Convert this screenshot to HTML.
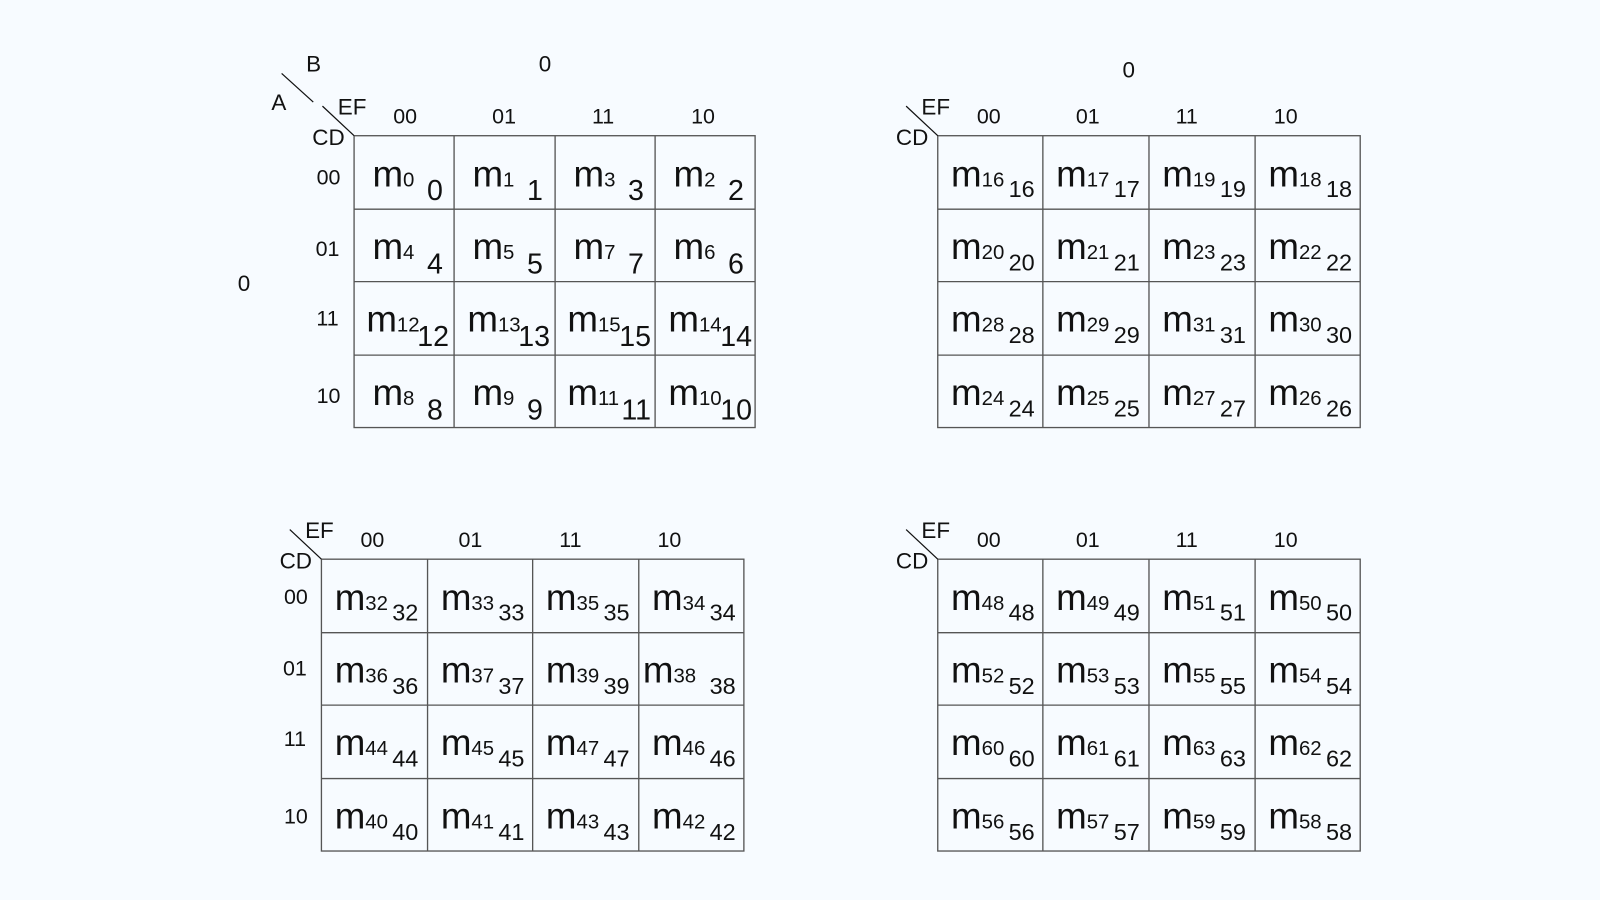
<!DOCTYPE html>
<html><head><meta charset="utf-8"><style>
html,body{margin:0;padding:0;background:#f7fbff;}
svg{display:block;}
text{font-family:"Liberation Sans",sans-serif;fill:#111;}
.m{font-size:36px;}
.s{font-size:20px;}
.i1{font-size:28px;text-anchor:end;}
.i{font-size:23px;text-anchor:end;}
.h{font-size:21px;text-anchor:middle;}
.l{font-size:22px;}
</style></head><body>
<svg width="1600" height="900" viewBox="0 0 1568 882" xmlns="http://www.w3.org/2000/svg">
<g stroke="#555" stroke-width="1.3" fill="none">
<rect x="347" y="133" width="393" height="286"/>
<line x1="445" y1="133" x2="445" y2="419"/><line x1="544" y1="133" x2="544" y2="419"/><line x1="642" y1="133" x2="642" y2="419"/>
<line x1="347" y1="205" x2="740" y2="205"/><line x1="347" y1="276" x2="740" y2="276"/><line x1="347" y1="348" x2="740" y2="348"/>
<rect x="919" y="133" width="414" height="286"/>
<line x1="1022" y1="133" x2="1022" y2="419"/><line x1="1126" y1="133" x2="1126" y2="419"/><line x1="1230" y1="133" x2="1230" y2="419"/>
<line x1="919" y1="205" x2="1333" y2="205"/><line x1="919" y1="276" x2="1333" y2="276"/><line x1="919" y1="348" x2="1333" y2="348"/>
<rect x="315" y="548" width="414" height="286"/>
<line x1="419" y1="548" x2="419" y2="834"/><line x1="522" y1="548" x2="522" y2="834"/><line x1="626" y1="548" x2="626" y2="834"/>
<line x1="315" y1="620" x2="729" y2="620"/><line x1="315" y1="691" x2="729" y2="691"/><line x1="315" y1="763" x2="729" y2="763"/>
<rect x="919" y="548" width="414" height="286"/>
<line x1="1022" y1="548" x2="1022" y2="834"/><line x1="1126" y1="548" x2="1126" y2="834"/><line x1="1230" y1="548" x2="1230" y2="834"/>
<line x1="919" y1="620" x2="1333" y2="620"/><line x1="919" y1="691" x2="1333" y2="691"/><line x1="919" y1="763" x2="1333" y2="763"/>
</g>
<g stroke="#111" stroke-width="1.2">
<line x1="276" y1="72" x2="307" y2="100"/><line x1="316" y1="104" x2="347" y2="133"/>
<line x1="888" y1="104" x2="919" y2="133"/>
<line x1="284" y1="519" x2="315" y2="548"/>
<line x1="888" y1="519" x2="919" y2="548"/>
</g>
<text class="l" x="300" y="70">B</text><text class="l" x="266" y="108">A</text>
<text class="l" x="528" y="70">0</text><text class="l" x="1100" y="76">0</text><text class="l" x="233" y="285">0</text>
<text class="l" x="331" y="112">EF</text><text class="l" x="306" y="142">CD</text>
<text class="l" x="903" y="112">EF</text><text class="l" x="878" y="142">CD</text>
<text class="l" x="299" y="527">EF</text><text class="l" x="274" y="557">CD</text>
<text class="l" x="903" y="527">EF</text><text class="l" x="878" y="557">CD</text>
<text class="h" x="397" y="121">00</text><text class="h" x="494" y="121">01</text><text class="h" x="591" y="121">11</text><text class="h" x="689" y="121">10</text>
<text class="h" x="969" y="121">00</text><text class="h" x="1066" y="121">01</text><text class="h" x="1163" y="121">11</text><text class="h" x="1260" y="121">10</text>
<text class="h" x="365" y="536">00</text><text class="h" x="461" y="536">01</text><text class="h" x="559" y="536">11</text><text class="h" x="656" y="536">10</text>
<text class="h" x="969" y="536">00</text><text class="h" x="1066" y="536">01</text><text class="h" x="1163" y="536">11</text><text class="h" x="1260" y="536">10</text>
<text class="h" x="322" y="181">00</text><text class="h" x="321" y="251">01</text><text class="h" x="321" y="319">11</text><text class="h" x="322" y="395">10</text>
<text class="h" x="290" y="592">00</text><text class="h" x="289" y="662">01</text><text class="h" x="289" y="731">11</text><text class="h" x="290" y="807">10</text>

<!-- top-left -->
<text class="m" x="365" y="183">m<tspan class="s">0</tspan></text><text class="i1" x="434" y="196">0</text>
<text class="m" x="463" y="183">m<tspan class="s">1</tspan></text><text class="i1" x="532" y="196">1</text>
<text class="m" x="562" y="183">m<tspan class="s">3</tspan></text><text class="i1" x="631" y="196">3</text>
<text class="m" x="660" y="183">m<tspan class="s">2</tspan></text><text class="i1" x="729" y="196">2</text>
<text class="m" x="365" y="254">m<tspan class="s">4</tspan></text><text class="i1" x="434" y="268">4</text>
<text class="m" x="463" y="254">m<tspan class="s">5</tspan></text><text class="i1" x="532" y="268">5</text>
<text class="m" x="562" y="254">m<tspan class="s">7</tspan></text><text class="i1" x="631" y="268">7</text>
<text class="m" x="660" y="254">m<tspan class="s">6</tspan></text><text class="i1" x="729" y="268">6</text>
<text class="m" x="359" y="325">m<tspan class="s">12</tspan></text><text class="i1" x="440" y="339">12</text>
<text class="m" x="458" y="325">m<tspan class="s">13</tspan></text><text class="i1" x="539" y="339">13</text>
<text class="m" x="556" y="325">m<tspan class="s">15</tspan></text><text class="i1" x="638" y="339">15</text>
<text class="m" x="655" y="325">m<tspan class="s">14</tspan></text><text class="i1" x="737" y="339">14</text>
<text class="m" x="365" y="397">m<tspan class="s">8</tspan></text><text class="i1" x="434" y="411">8</text>
<text class="m" x="463" y="397">m<tspan class="s">9</tspan></text><text class="i1" x="532" y="411">9</text>
<text class="m" x="556" y="397">m<tspan class="s">11</tspan></text><text class="i1" x="638" y="411">11</text>
<text class="m" x="655" y="397">m<tspan class="s">10</tspan></text><text class="i1" x="737" y="411">10</text>

<!-- top-right -->
<text class="m" x="932" y="183">m<tspan class="s">16</tspan></text><text class="i" x="1014" y="193">16</text>
<text class="m" x="1035" y="183">m<tspan class="s">17</tspan></text><text class="i" x="1117" y="193">17</text>
<text class="m" x="1139" y="183">m<tspan class="s">19</tspan></text><text class="i" x="1221" y="193">19</text>
<text class="m" x="1243" y="183">m<tspan class="s">18</tspan></text><text class="i" x="1325" y="193">18</text>
<text class="m" x="932" y="254">m<tspan class="s">20</tspan></text><text class="i" x="1014" y="265">20</text>
<text class="m" x="1035" y="254">m<tspan class="s">21</tspan></text><text class="i" x="1117" y="265">21</text>
<text class="m" x="1139" y="254">m<tspan class="s">23</tspan></text><text class="i" x="1221" y="265">23</text>
<text class="m" x="1243" y="254">m<tspan class="s">22</tspan></text><text class="i" x="1325" y="265">22</text>
<text class="m" x="932" y="325">m<tspan class="s">28</tspan></text><text class="i" x="1014" y="336">28</text>
<text class="m" x="1035" y="325">m<tspan class="s">29</tspan></text><text class="i" x="1117" y="336">29</text>
<text class="m" x="1139" y="325">m<tspan class="s">31</tspan></text><text class="i" x="1221" y="336">31</text>
<text class="m" x="1243" y="325">m<tspan class="s">30</tspan></text><text class="i" x="1325" y="336">30</text>
<text class="m" x="932" y="397">m<tspan class="s">24</tspan></text><text class="i" x="1014" y="408">24</text>
<text class="m" x="1035" y="397">m<tspan class="s">25</tspan></text><text class="i" x="1117" y="408">25</text>
<text class="m" x="1139" y="397">m<tspan class="s">27</tspan></text><text class="i" x="1221" y="408">27</text>
<text class="m" x="1243" y="397">m<tspan class="s">26</tspan></text><text class="i" x="1325" y="408">26</text>

<!-- bottom-left -->
<text class="m" x="328" y="598">m<tspan class="s">32</tspan></text><text class="i" x="410" y="608">32</text>
<text class="m" x="432" y="598">m<tspan class="s">33</tspan></text><text class="i" x="514" y="608">33</text>
<text class="m" x="535" y="598">m<tspan class="s">35</tspan></text><text class="i" x="617" y="608">35</text>
<text class="m" x="639" y="598">m<tspan class="s">34</tspan></text><text class="i" x="721" y="608">34</text>
<text class="m" x="328" y="669">m<tspan class="s">36</tspan></text><text class="i" x="410" y="680">36</text>
<text class="m" x="432" y="669">m<tspan class="s">37</tspan></text><text class="i" x="514" y="680">37</text>
<text class="m" x="535" y="669">m<tspan class="s">39</tspan></text><text class="i" x="617" y="680">39</text>
<text class="m" x="630" y="669">m<tspan class="s">38</tspan></text><text class="i" x="721" y="680">38</text>
<text class="m" x="328" y="740">m<tspan class="s">44</tspan></text><text class="i" x="410" y="751">44</text>
<text class="m" x="432" y="740">m<tspan class="s">45</tspan></text><text class="i" x="514" y="751">45</text>
<text class="m" x="535" y="740">m<tspan class="s">47</tspan></text><text class="i" x="617" y="751">47</text>
<text class="m" x="639" y="740">m<tspan class="s">46</tspan></text><text class="i" x="721" y="751">46</text>
<text class="m" x="328" y="812">m<tspan class="s">40</tspan></text><text class="i" x="410" y="823">40</text>
<text class="m" x="432" y="812">m<tspan class="s">41</tspan></text><text class="i" x="514" y="823">41</text>
<text class="m" x="535" y="812">m<tspan class="s">43</tspan></text><text class="i" x="617" y="823">43</text>
<text class="m" x="639" y="812">m<tspan class="s">42</tspan></text><text class="i" x="721" y="823">42</text>

<!-- bottom-right -->
<text class="m" x="932" y="598">m<tspan class="s">48</tspan></text><text class="i" x="1014" y="608">48</text>
<text class="m" x="1035" y="598">m<tspan class="s">49</tspan></text><text class="i" x="1117" y="608">49</text>
<text class="m" x="1139" y="598">m<tspan class="s">51</tspan></text><text class="i" x="1221" y="608">51</text>
<text class="m" x="1243" y="598">m<tspan class="s">50</tspan></text><text class="i" x="1325" y="608">50</text>
<text class="m" x="932" y="669">m<tspan class="s">52</tspan></text><text class="i" x="1014" y="680">52</text>
<text class="m" x="1035" y="669">m<tspan class="s">53</tspan></text><text class="i" x="1117" y="680">53</text>
<text class="m" x="1139" y="669">m<tspan class="s">55</tspan></text><text class="i" x="1221" y="680">55</text>
<text class="m" x="1243" y="669">m<tspan class="s">54</tspan></text><text class="i" x="1325" y="680">54</text>
<text class="m" x="932" y="740">m<tspan class="s">60</tspan></text><text class="i" x="1014" y="751">60</text>
<text class="m" x="1035" y="740">m<tspan class="s">61</tspan></text><text class="i" x="1117" y="751">61</text>
<text class="m" x="1139" y="740">m<tspan class="s">63</tspan></text><text class="i" x="1221" y="751">63</text>
<text class="m" x="1243" y="740">m<tspan class="s">62</tspan></text><text class="i" x="1325" y="751">62</text>
<text class="m" x="932" y="812">m<tspan class="s">56</tspan></text><text class="i" x="1014" y="823">56</text>
<text class="m" x="1035" y="812">m<tspan class="s">57</tspan></text><text class="i" x="1117" y="823">57</text>
<text class="m" x="1139" y="812">m<tspan class="s">59</tspan></text><text class="i" x="1221" y="823">59</text>
<text class="m" x="1243" y="812">m<tspan class="s">58</tspan></text><text class="i" x="1325" y="823">58</text>
</svg>
</body></html>
